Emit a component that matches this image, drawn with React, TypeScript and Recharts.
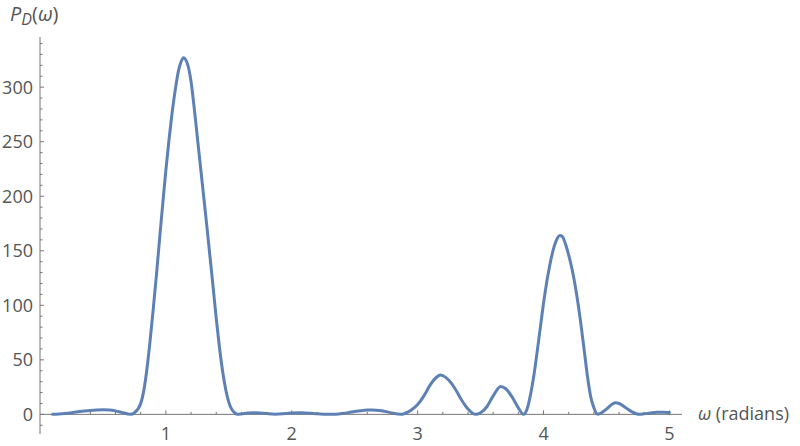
import React from "react";
import { LineChart, Line, XAxis, YAxis, ReferenceLine } from "recharts";

const OMEGA = [
  0.1, 0.15, 0.2, 0.25, 0.3, 0.35, 0.4, 0.45, 0.5, 0.55, 0.6, 0.65, 0.7, 0.72,
  0.75, 0.8, 0.825, 0.85, 0.875, 0.9, 0.925, 0.95, 0.975, 1.0, 1.025, 1.05,
  1.075, 1.1, 1.12, 1.14, 1.175, 1.2, 1.225, 1.25, 1.275, 1.3, 1.325, 1.35,
  1.375, 1.4, 1.425, 1.45, 1.475, 1.5, 1.55, 1.57, 1.6, 1.65, 1.7, 1.75, 1.8,
  1.87, 1.95, 2.0, 2.07, 2.15, 2.2, 2.3, 2.35, 2.4, 2.45, 2.5, 2.55, 2.6, 2.64,
  2.7, 2.75, 2.8, 2.87, 2.9, 2.95, 3.0, 3.05, 3.1, 3.15, 3.18, 3.2, 3.25, 3.3,
  3.35, 3.4, 3.46, 3.5, 3.55, 3.6, 3.66, 3.7, 3.75, 3.8, 3.84, 3.875, 3.9,
  3.925, 3.95, 3.975, 4.0, 4.025, 4.05, 4.075, 4.1, 4.13, 4.15, 4.175, 4.2,
  4.225, 4.25, 4.275, 4.3, 4.325, 4.35, 4.375, 4.4, 4.43, 4.45, 4.5, 4.55,
  4.57, 4.6, 4.65, 4.7, 4.76, 4.8, 4.85, 4.9, 4.95, 5.0,
];
const POWER = [
  0, 0.3, 0.8, 1.5, 2.3, 3.0, 3.6, 4.0, 4.2, 4.0, 3.2, 1.8, 0.3, 0,
  1.5, 10, 22, 42, 68, 97, 128, 161, 193, 224, 252, 277,
  298, 315, 323, 327, 320, 305, 281, 254, 227, 200, 173, 145,
  117, 88, 62, 40, 23, 11, 1, 0, 0.4, 1.2, 1.5, 1.3, 0.7,
  0.1, 0.7, 1.2, 1.5, 1.0, 0.5, 0, 0.2, 0.8, 1.6, 2.6, 3.4, 3.9, 4.0,
  3.5, 2.5, 1.1, 0, 1.0, 4, 9, 17, 27, 34, 36, 35.5, 31, 23,
  13, 5, 0, 1.5, 7, 17, 25.5, 23.5, 16, 6, 0, 7, 20,
  37, 58, 80, 102, 121, 137, 150, 159, 164, 163, 156, 146,
  134, 119, 101, 80, 57, 34, 16, 6, 0, 0.8, 4.8, 9.7,
  10.6, 10, 6.3, 2.5, 0, 0.5, 1.3, 1.9, 2.0, 1.7,
];

const X_TICKS = [
  0.2, 0.4, 0.6, 0.8, 1, 1.2, 1.4, 1.6, 1.8, 2, 2.2, 2.4, 2.6, 2.8, 3, 3.2,
  3.4, 3.6, 3.8, 4, 4.2, 4.4, 4.6, 4.8, 5,
];
const X_LABELS = [1, 2, 3, 4, 5];
const Y_TICKS = [
  -10, 0, 10, 20, 30, 40, 50, 60, 70, 80, 90, 100, 110, 120, 130, 140, 150,
  160, 170, 180, 190, 200, 210, 220, 230, 240, 250, 260, 270, 280, 290, 300,
  310, 320, 330, 340,
];
const Y_LABELS = [0, 50, 100, 150, 200, 250, 300];

const X_DOMAIN = [0, 5.1];
const Y_MIN = -18;
const Y_MAX = 346;

const W = 800;
const H = 446;
const MARGIN = { top: 37, right: 118, bottom: 0, left: 0 };
const Y_AXIS_W = 40;
const X_AXIS_H = 12;
const PLOT_H = H - MARGIN.top - MARGIN.bottom - X_AXIS_H;
// the x axis sits at y = 0, not at the bottom of the plot box
const ZERO_SHIFT = (PLOT_H * (0 - Y_MIN)) / (Y_MAX - Y_MIN);

const AXIS = "#777777";
const TEXT = "#555555";
const FONT = "'Open Sans', 'DejaVu Sans', sans-serif";

const data = OMEGA.map((w, i) => ({ w, p: POWER[i] }));

function XTick(props: any) {
  const { x, y, payload } = props;
  const y0 = y - ZERO_SHIFT;
  const major = X_LABELS.includes(payload.value);
  return (
    <g>
      <line x1={x} x2={x} y1={y0} y2={y0 - (major ? 4 : 2.5)} stroke={AXIS} />
      {major && (
        <text x={x} y={y0 + 26} textAnchor="middle" fontSize={18} fill={TEXT} fontFamily={FONT}>
          {payload.value}
        </text>
      )}
    </g>
  );
}

function YTick(props: any) {
  const { x, y, payload } = props;
  const major = Y_LABELS.includes(payload.value);
  return (
    <g>
      <line x1={x} x2={x + (major ? 4 : 2.5)} y1={y} y2={y} stroke={AXIS} />
      {major && (
        <text x={x - 7} y={y + 6.5} textAnchor="end" fontSize={18} fill={TEXT} fontFamily={FONT}>
          {payload.value}
        </text>
      )}
    </g>
  );
}

export default function App() {
  return (
    <div style={{ position: "absolute", left: 0, top: 0, width: W, height: H, background: "#fff" }}>
      <LineChart width={W} height={H} data={data} margin={MARGIN}>
        <XAxis
          dataKey="w"
          type="number"
          domain={X_DOMAIN}
          ticks={X_TICKS}
          allowDataOverflow
          axisLine={false}
          tickLine={false}
          tickSize={0}
          tickMargin={0}
          height={X_AXIS_H}
          interval={0}
          tick={<XTick />}
        />
        <YAxis
          type="number"
          domain={[Y_MIN, Y_MAX]}
          ticks={Y_TICKS}
          allowDataOverflow
          width={Y_AXIS_W}
          axisLine={{ stroke: AXIS }}
          tickLine={false}
          tickSize={0}
          tickMargin={0}
          interval={0}
          tick={<YTick />}
        />
        <ReferenceLine y={0} stroke={AXIS} />
        <Line
          type="monotone"
          dataKey="p"
          stroke="#5E81B5"
          strokeWidth={3}
          strokeLinecap="round"
          strokeLinejoin="round"
          dot={false}
          activeDot={false}
          isAnimationActive={false}
        />
      </LineChart>
      <svg
        width={W}
        height={H}
        style={{ position: "absolute", left: 0, top: 0, pointerEvents: "none" }}
      >
        <text x={10} y={21} fontSize={20} fill={TEXT} fontFamily={FONT}>
          <tspan fontStyle="italic">P</tspan>
          <tspan fontStyle="italic" fontSize={16} dy={4}>D</tspan>
          <tspan dy={-4}>(</tspan>
          <tspan fontStyle="italic">ω</tspan>
          <tspan>)</tspan>
        </text>
        <text x={698} y={420} fontSize={18} fill={TEXT} fontFamily={FONT}>
          <tspan fontStyle="italic">ω</tspan>
          <tspan> (radians)</tspan>
        </text>
      </svg>
    </div>
  );
}
